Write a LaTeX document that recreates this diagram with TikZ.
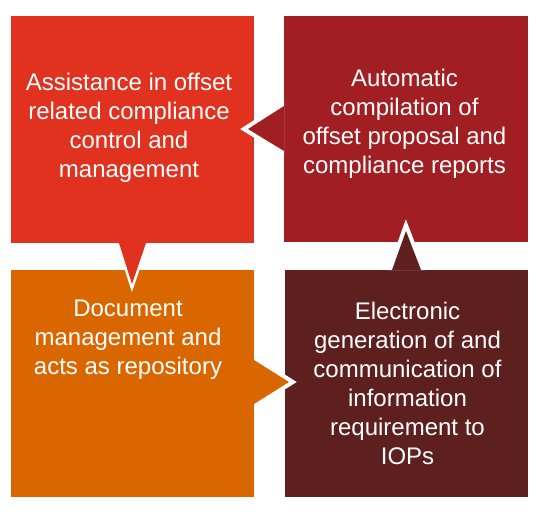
\documentclass[tikz,border=0pt]{standalone}
\usepackage{fontspec}
\setmainfont{Liberation Sans}
\usetikzlibrary{calc}
\definecolor{cTL}{HTML}{E0321F}
\definecolor{cTR}{HTML}{A11E22}
\definecolor{cBL}{HTML}{DA6600}
\definecolor{cBR}{HTML}{5E1F1F}
\tikzset{
  box/.style={rectangle, inner sep=0pt, outer sep=0pt, draw=none},
  lbl/.style={text=white, align=center, inner sep=0pt, font=\fontsize{24}{29}\selectfont}
}
\newcommand\pointer[5]{%
  \coordinate (pm) at ($(#2)!0.5!(#3)$);
  \fill[white] ($(pm)!#5!(#2)$) -- ($(pm)!#5!(#4)$) -- ($(pm)!#5!(#3)$) -- cycle;
  \fill[#1] (#2) -- (#4) -- (#3) -- cycle;}
\begin{document}
\begin{tikzpicture}[x=1pt,y=-1pt]
\useasboundingbox[fill=white] (0,0) rectangle (541,515);
% boxes
\node[box, fill=cTL, minimum width=243pt, minimum height=227pt] (tl) at (132.5,129.5) {};
\node[box, fill=cTR, minimum width=244pt, minimum height=226pt] (tr) at (406,129) {};
\node[box, fill=cBL, minimum width=243pt, minimum height=227pt] (bl) at (132.5,383.5) {};
\node[box, fill=cBR, minimum width=243pt, minimum height=227pt] (br) at (406.5,383.5) {};
% pointers
\coordinate (tlA) at (119,243);
\coordinate (tlB) at (146,243);
\coordinate (tlT) at (132,284);
\coordinate (trA) at (284,106);
\coordinate (trB) at (284,151);
\coordinate (trT) at (248,129);
\coordinate (blA) at (254,360);
\coordinate (blB) at (254,404);
\coordinate (blT) at (289,382);
\coordinate (brA) at (392,270);
\coordinate (brB) at (421,270);
\coordinate (brT) at (406,231);
\pointer{cTL}{tlA}{tlB}{tlT}{1.2}
\pointer{cTR}{trA}{trB}{trT}{1.22}
\pointer{cBL}{blA}{blB}{blT}{1.22}
\pointer{cBR}{brA}{brB}{brT}{1.3}
% texts
\node[lbl] (tlt) at (129,128) {Assistance in offset\\related compliance\\control and\\management};
\node[lbl] (trt) at (404.5,124) {Automatic\\compilation of\\offset proposal and\\compliance reports};
\node[lbl] (blt) at (128,340) {Document\\management and\\acts as repository};
\node[lbl] (brt) at (407.5,383) {Electronic\\generation of and\\communication of\\information\\requirement to\\IOPs};
\end{tikzpicture}
\end{document}
